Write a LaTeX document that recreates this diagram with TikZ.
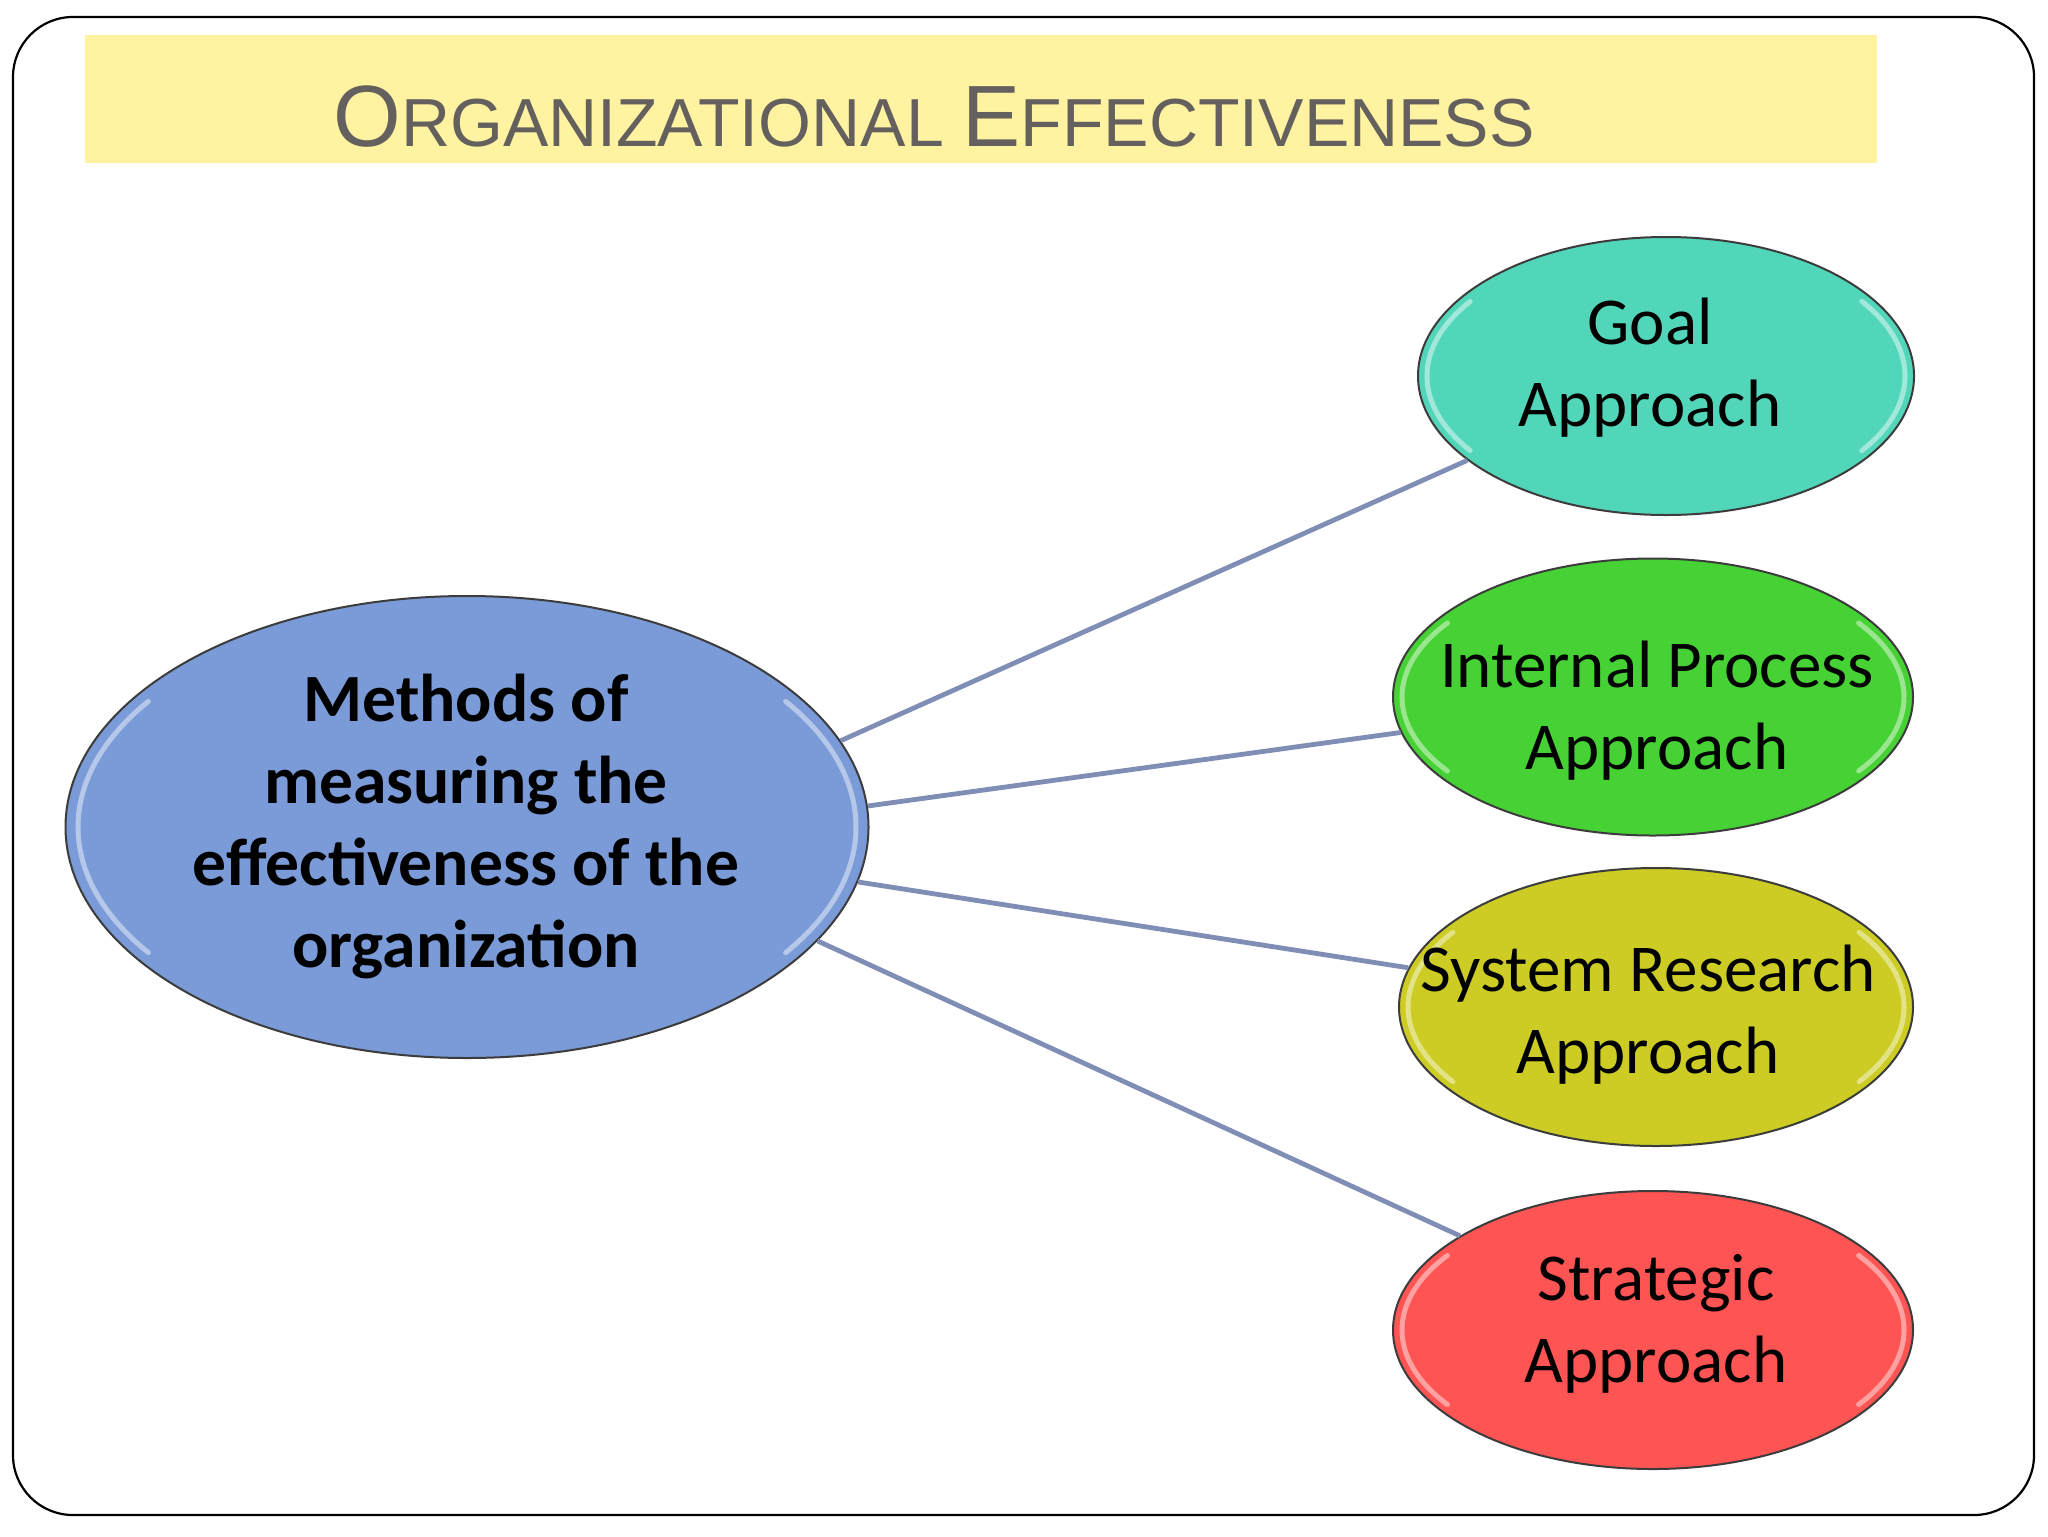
\documentclass[tikz,border=0pt]{standalone}
\usepackage{fontspec}
\setmainfont{Carlito}
\newfontfamily\titlefont{Liberation Sans}
\usetikzlibrary{shapes.geometric}
\definecolor{bandyellow}{RGB}{255,242,160}
\definecolor{titlegray}{RGB}{100,96,94}
\definecolor{edgegray}{RGB}{60,60,60}
\definecolor{connblue}{RGB}{128,142,182}
\definecolor{mainblue}{RGB}{122,155,216}
\definecolor{goalteal}{RGB}{82,214,186}
\definecolor{procgreen}{RGB}{70,210,52}
\definecolor{sysolive}{RGB}{204,204,36}
\definecolor{stratred}{RGB}{255,84,84}
\tikzset{
  bubble/.style={ellipse, draw=edgegray, line width=1pt, inner sep=0pt},
  conn/.style={draw=connblue, line width=2.4pt},
  gloss/.style={draw=white, opacity=0.45, line width=2.5pt, line cap=round},
  lbl/.style={inner sep=0pt, align=center, font=\fontsize{33.5}{41}\selectfont},
}
\begin{document}
\begin{tikzpicture}[x=0.5pt,y=-0.5pt]
\useasboundingbox (0,0) rectangle (2048,1536);
\fill[white] (0,0) rectangle (2048,1536);
\draw[line width=1.1pt, rounded corners=30pt] (13,17) rectangle (2034,1515);
\node[fill=bandyellow, minimum width=896pt, minimum height=64pt, inner sep=0pt, anchor=north west] (band) at (85,35) {};
\node[anchor=base west, text=titlegray, inner sep=0pt] (title) at (333,146)
  {\titlefont\fontsize{43.5}{50}\selectfont O\fontsize{34}{40}\selectfont RGANIZATIONAL \fontsize{43.5}{50}\selectfont E\fontsize{34}{40}\selectfont FFECTIVENESS};

\node[bubble, fill=mainblue, minimum width=401.5pt, minimum height=231pt] (main) at (467,827) {};
\node[bubble, fill=goalteal, minimum width=248pt, minimum height=139pt] (goal) at (1666,376) {};
\node[bubble, fill=procgreen, minimum width=260pt, minimum height=138.5pt] (proc) at (1653,697) {};
\node[bubble, fill=sysolive, minimum width=257pt, minimum height=139pt] (sys) at (1656,1007) {};
\node[bubble, fill=stratred, minimum width=260pt, minimum height=139pt] (strat) at (1653,1330) {};

% glossy highlights
\draw[gloss] (main.center) ++(145:389 and 219) arc[start angle=145, end angle=215, x radius=389, y radius=219];
\draw[gloss] (main.center) ++(-35:389 and 219) arc[start angle=-35, end angle=35, x radius=389, y radius=219];
\draw[gloss] (goal.center) ++(145:239 and 130) arc[start angle=145, end angle=215, x radius=239, y radius=130];
\draw[gloss] (goal.center) ++(-35:239 and 130) arc[start angle=-35, end angle=35, x radius=239, y radius=130];
\draw[gloss] (proc.center) ++(145:251 and 129) arc[start angle=145, end angle=215, x radius=251, y radius=129];
\draw[gloss] (proc.center) ++(-35:251 and 129) arc[start angle=-35, end angle=35, x radius=251, y radius=129];
\draw[gloss] (sys.center) ++(145:248 and 130) arc[start angle=145, end angle=215, x radius=248, y radius=130];
\draw[gloss] (sys.center) ++(-35:248 and 130) arc[start angle=-35, end angle=35, x radius=248, y radius=130];
\draw[gloss] (strat.center) ++(145:251 and 130) arc[start angle=145, end angle=215, x radius=251, y radius=130];
\draw[gloss] (strat.center) ++(-35:251 and 130) arc[start angle=-35, end angle=35, x radius=251, y radius=130];

% connectors
\draw[conn] (main.13.4) -- (goal.203.4);
\draw[conn] (main.3) -- (proc.188.2);
\draw[conn] (main.-8.3) -- (sys.171.1);
\draw[conn] (main.-18.6) -- (strat.154.4);

% texts
\node[lbl, font=\bfseries\fontsize{33.8}{41}\selectfont] (maintext) at (466,826) {Methods of\\measuring the\\effectiveness of the\\organization};
\node[lbl] (goaltext) at (1650,368) {Goal\\Approach};
\node[lbl] (proctext) at (1657,711) {Internal Process\\Approach};
\node[lbl] (systext) at (1648,1015) {System Research\\Approach};
\node[lbl] (strattext) at (1656,1324) {Strategic\\Approach};
\end{tikzpicture}
\end{document}
